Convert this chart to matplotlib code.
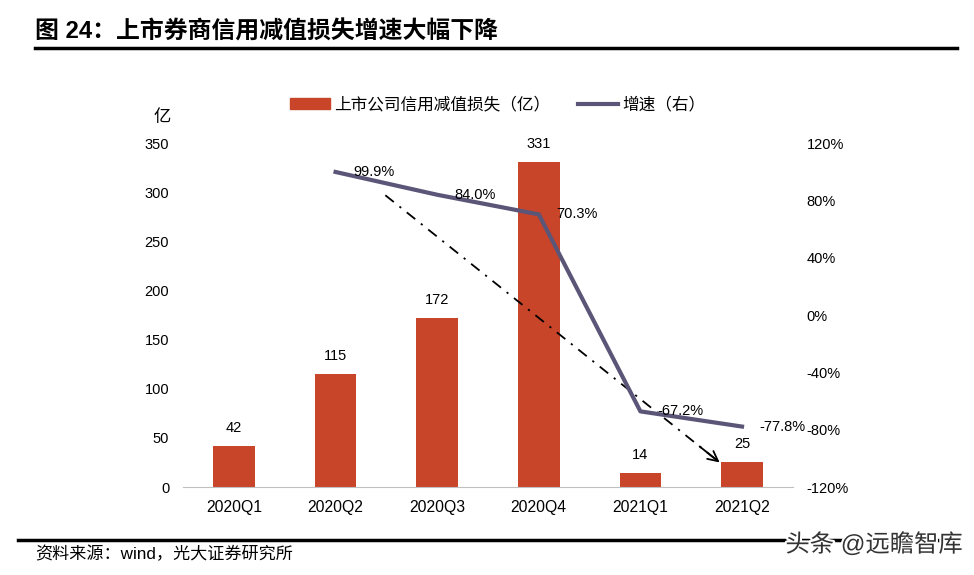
import numpy as np
import matplotlib.pyplot as plt
import matplotlib.patheffects as pe
from matplotlib.lines import Line2D
from matplotlib.patches import Patch

plt.rcParams['font.family'] = ['Liberation Sans', 'Noto Sans CJK SC', 'DejaVu Sans']

quarters = ['2020Q1', '2020Q2', '2020Q3', '2020Q4', '2021Q1', '2021Q2']
loss = [42, 115, 172, 331, 14, 25]
growth = [np.nan, 99.9, 84.0, 70.3, -67.2, -77.8]

# trend arrow ends (category position, left-axis value)
arrow_x = [1.49, 4.78]
arrow_y = [297, 25]

bar_color = '#C9452A'
line_color = '#5B5577'

fig = plt.figure(figsize=(9.74, 5.75), dpi=100)
ax = fig.add_axes([0.188, 0.153, 0.626, 0.598])
ax2 = ax.twinx()

x = np.arange(len(quarters))
ax.bar(x, loss, width=0.41, color=bar_color, zorder=2)
for xi, v in zip(x, loss):
    ax.annotate(str(v), (xi, v), xytext=(0, 8), textcoords='offset points',
                ha='center', va='bottom', fontsize=10.5)

ax.set_xlim(-0.5, len(quarters) - 0.5)
ax.set_ylim(0, 350)
ax.set_yticks(range(0, 351, 50))
ax.set_xticks(x)
ax.set_xticklabels(quarters, fontsize=11.3)
ax.tick_params(axis='y', length=0, labelsize=10.5, pad=10)
ax.tick_params(axis='x', length=0, pad=9)
for s in ['top', 'right', 'left']:
    ax.spines[s].set_visible(False)
ax.spines['bottom'].set_color('#BFBFBF')
ax.text(-0.035, 1.075, '亿', transform=ax.transAxes, fontsize=12.5, ha='center', va='center')

ax2.plot(x, growth, color=line_color, lw=3, zorder=3)
for xi, g in zip(x, growth):
    if np.isnan(g):
        continue
    ax2.annotate('%.1f%%' % g, (xi, g), xytext=(12.5, 0), textcoords='offset points',
                 ha='left', va='center', fontsize=10.5)
ax2.set_ylim(-120, 120)
ax2.set_yticks(range(-120, 121, 40))
ax2.set_yticklabels(['%d%%' % t for t in range(-120, 121, 40)])
ax2.tick_params(axis='y', length=0, labelsize=10.5, pad=10)
for s in ['top', 'right', 'left', 'bottom']:
    ax2.spines[s].set_visible(False)

# trend arrow: dash-dot shaft plus a solid open head
ax.plot(arrow_x, arrow_y, color='black', lw=1.3, linestyle=(0, (6, 4, 1.2, 4)), zorder=4)
tail_x = arrow_x[1] - 0.06 * (arrow_x[1] - arrow_x[0])
tail_y = arrow_y[1] - 0.06 * (arrow_y[1] - arrow_y[0])
ax.annotate('', xy=(arrow_x[1], arrow_y[1]), xytext=(tail_x, tail_y),
            arrowprops=dict(arrowstyle='->', color='black', lw=1.3,
                            mutation_scale=18, shrinkA=0, shrinkB=0,
                            linestyle='-', alpha=1), zorder=4)

handles = [Patch(color=bar_color), Line2D([0], [0], color=line_color, lw=3)]
fig.legend(handles, ['上市公司信用减值损失（亿）', '增速（右）'],
           loc='center', bbox_to_anchor=(0.511, 0.818), ncol=2, frameon=False,
           fontsize=12, handlelength=2.4, handleheight=0.6, columnspacing=1.7,
           handletextpad=0.25)

fig.text(0.036, 0.944, '图 24：上市券商信用减值损失增速大幅下降', fontsize=17.2,
         fontweight='bold', ha='left', va='center')
fig.add_artist(Line2D([0.036, 0.983], [0.916, 0.916], color='black', lw=2.5))
fig.add_artist(Line2D([0.018, 0.98], [0.061, 0.061], color='black', lw=2.5))
fig.text(0.036, 0.037, '资料来源：wind，光大证券研究所', fontsize=12.3, ha='left', va='center')
fig.text(0.988, 0.053, '头条 @远瞻智库', fontsize=17.5, ha='right', va='center',
         color='#333333',
         path_effects=[pe.withStroke(linewidth=3, foreground='white')])

plt.savefig('out.png', dpi=100)
